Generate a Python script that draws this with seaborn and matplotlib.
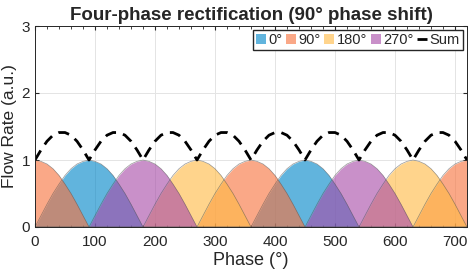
import numpy as np
import pandas as pd
import matplotlib
matplotlib.use("Agg")
import matplotlib.pyplot as plt
import seaborn as sns
from matplotlib.ticker import MultipleLocator

# one rectified half-wave (0..180 deg, 10 deg step), peak = 1
arch = [0.00, 0.17, 0.34, 0.50, 0.64, 0.77, 0.87, 0.94, 0.98, 1.00,
        0.98, 0.94, 0.87, 0.77, 0.64, 0.50, 0.34, 0.17, 0.00]
arch_step = 10
phase_max = 720

phase_names = ["0°", "90°", "180°", "270°"]
phase_offsets = [0, 90, 180, 270]
phase_colors = ["#0086c8", "#f8733e", "#ffbb45", "#a84ca9"]

# build each phase from the half-wave shape
phase = np.arange(0, phase_max + 1, arch_step)
series = {}
for name, off in zip(phase_names, phase_offsets):
    local = (phase + off) % 360
    vals = [arch[l // arch_step] if l <= 180 else 0.0 for l in local]
    series[name] = np.array(vals)
total = sum(series.values())

df = pd.DataFrame({"Phase": phase, **series, "Sum": total})
long_df = df.melt(id_vars="Phase", value_vars=phase_names, var_name="Series", value_name="Flow")

sns.set_style("ticks")
plt.rcParams["font.family"] = ["Liberation Sans", "DejaVu Sans"]

fig = plt.figure(figsize=(4.74, 2.77), dpi=100)
ax = fig.add_axes([35 / 474, 1 - 227 / 277, 432 / 474, 201 / 277])

for name, col in zip(phase_names, phase_colors):
    ax.fill_between(df["Phase"], 0, df[name], color=col, alpha=0.62, linewidth=0, label=name)

# thin outlines of each phase
sns.lineplot(data=long_df, x="Phase", y="Flow", hue="Series", palette=["#555555"] * 4,
             linewidth=0.5, alpha=0.6, legend=False, ax=ax)

sns.lineplot(data=df, x="Phase", y="Sum", color="black", linewidth=2,
             dashes=False, ax=ax, label="Sum")
ax.lines[-1].set_dashes([4, 2.6])

ax.set_xlim(0, 720)
ax.set_ylim(0, 3)
ax.set_xticks(range(0, 701, 100))
ax.set_yticks([0, 1, 2, 3])
ax.xaxis.set_minor_locator(MultipleLocator(20))
ax.grid(True, which="major", color="#e4e4e4", linewidth=0.7)
ax.set_axisbelow(True)
ax.tick_params(direction="in", which="both", top=True, right=True, labelsize=11,
               colors="#262626", length=3)
ax.tick_params(axis="x", which="major", pad=6)
ax.tick_params(which="minor", length=1.8)
for s in ax.spines.values():
    s.set_color("#262626")
    s.set_linewidth(0.7)

ax.set_xlabel("Phase (°)", fontsize=13, labelpad=2)
ax.set_ylabel("Flow Rate (a.u.)", fontsize=12.5)
ax.yaxis.set_label_coords(-0.042, 0.5)
ax.set_title("Four-phase rectification (90° phase shift)", fontsize=13.5,
             fontweight="bold", pad=4)

ax.legend(loc="upper right", ncol=5, fontsize=10.5, frameon=True, fancybox=False,
          framealpha=1, edgecolor="#262626", handlelength=0.7, handletextpad=0.15,
          columnspacing=0.25, borderpad=0.2, borderaxespad=0.3)

fig.savefig("out.png", dpi=100)
